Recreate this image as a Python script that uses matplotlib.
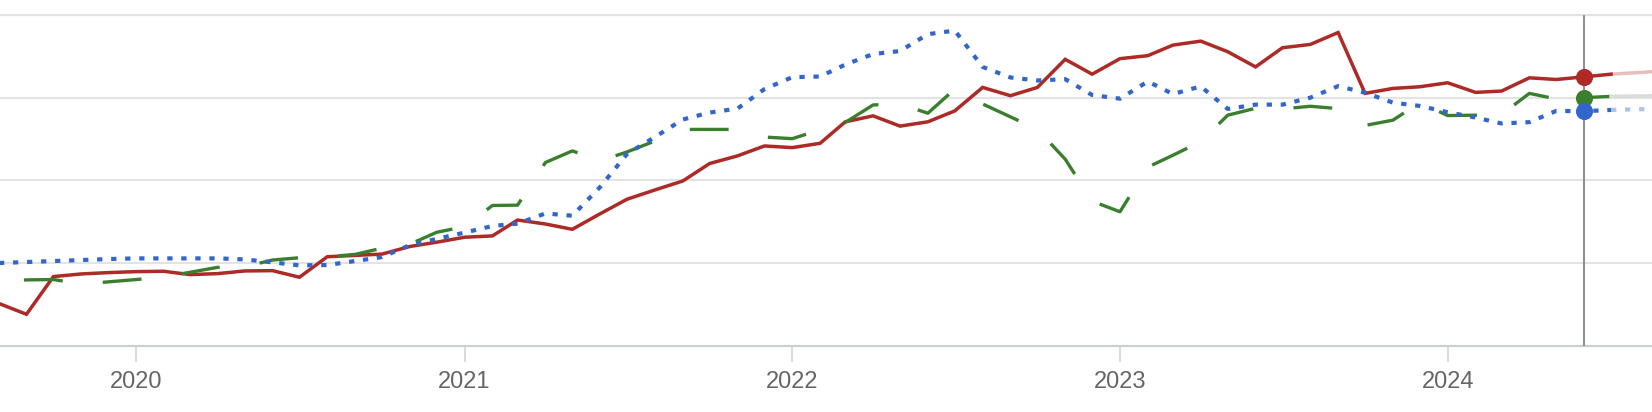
import matplotlib
matplotlib.use('Agg')
import matplotlib.pyplot as plt
import matplotlib.dates as mdates
import pandas as pd

# monthly values, Aug 2019 .. Sep 2024 (last two months are partial / faded)
months = pd.date_range('2019-08-01', '2024-09-01', freq='MS')

red = [12.8, 9.5, 20.9, 21.7, 22.1,
       22.4, 22.5, 21.5, 21.8, 22.6, 22.7, 20.7, 26.9, 27.3, 27.7, 30.0, 31.3,
       32.8, 33.2, 38.0, 36.8, 35.2, 39.9, 44.3, 47.1, 49.8, 55.1, 57.4, 60.4,
       59.9, 61.2, 67.7, 69.5, 66.4, 67.7, 71.0, 78.1, 75.6, 78.1, 86.6, 82.1,
       86.8, 87.7, 90.9, 92.1, 88.9, 84.3, 90.1, 91.1, 94.7, 76.3, 77.8, 78.3,
       79.5, 76.6, 77.0, 81.0, 80.5, 81.3, 82.1, 82.6, 83.2]

green = [19.5, 19.9, 20.0, 18.7, 19.3,
         20.0, 20.8, 22.2, 23.7, 23.9, 25.9, 26.6, 26.9, 27.6, 29.5, 30.7, 34.3,
         36.0, 42.4, 42.5, 55.4, 58.9, 55.9, 58.6, 61.9, 65.4, 65.4, 65.4, 63.1,
         62.6, 65.3, 67.5, 72.8, 73.1, 70.3, 77.6, 73.1, 69.2, 65.4, 56.4, 43.7,
         40.5, 54.0, 57.6, 61.7, 69.7, 71.8, 71.6, 72.4, 71.7, 66.6, 68.2, 73.5,
         69.6, 69.7, 69.9, 76.3, 74.6, 75.0, 75.4, 75.5, 75.6]

blue = [25.0, 25.3, 25.6, 25.9, 26.2,
        26.4, 26.4, 26.4, 26.4, 26.1, 25.2, 24.3, 24.4, 25.6, 26.8, 30.4, 32.3,
        34.2, 36.2, 36.9, 40.0, 39.3, 48.0, 58.0, 63.1, 68.4, 70.5, 71.7, 77.6,
        81.2, 81.4, 85.0, 88.2, 89.1, 94.2, 95.3, 84.3, 81.1, 80.2, 80.6, 75.8,
        74.7, 79.9, 76.1, 78.4, 71.6, 72.9, 72.9, 75.0, 78.5, 76.5, 73.5, 72.5,
        70.6, 69.0, 67.2, 67.6, 71.0, 70.9, 71.3, 71.5, 71.6]

years = ['2020', '2021', '2022', '2023', '2024']
highlight = pd.Timestamp('2024-06-01')
last_full = pd.Timestamp('2024-07-01')

RED = '#ad2a26'
GREEN = '#3a7f2e'
BLUE = '#3366cc'

df = pd.DataFrame({'red': red, 'green': green, 'blue': blue}, index=months)
solid = df[df.index <= last_full]
faded = df[df.index >= last_full]

plt.rcParams['lines.scale_dashes'] = False
plt.rcParams['font.family'] = ['Liberation Sans', 'DejaVu Sans']

fig = plt.figure(figsize=(16.52, 4.12), dpi=100)
ax = fig.add_axes([0, 66.3 / 412, 1, 330.7 / 412])

ax.plot(solid.index, solid['red'], color=RED, lw=2.5, solid_joinstyle='miter', zorder=3)
ax.plot(solid.index, solid['green'], color=GREEN, lw=2.4,
        linestyle=(39, (28, 29)), dash_capstyle='butt', zorder=4)
ax.plot(solid.index, solid['blue'], color=BLUE, lw=3.0,
        linestyle=(0, (3.8, 6.3)), dash_capstyle='butt', zorder=5)

# partial data after the last full month
ax.plot(faded.index, faded['red'], color=RED, lw=2.5, alpha=0.3, zorder=3)
ax.plot(faded.index, faded['green'], color='#dcdcdc', lw=2.6, zorder=4)
ax.plot(faded.index, faded['blue'], color=BLUE, lw=3.0, alpha=0.4,
        linestyle=(0, (3.8, 6.3)), zorder=5)

# hover line and markers
ax.axvline(highlight, color='#939090', lw=1.5, zorder=6)
row = df.loc[highlight]
ax.plot([highlight], [row['red']], 'o', color=RED, ms=11.3, zorder=7)
ax.plot([highlight], [row['green']], 'o', color=GREEN, ms=11.3, zorder=7)
ax.plot([highlight], [row['blue']], 'o', color=BLUE, ms=11.3, zorder=7)

x0 = mdates.date2num(pd.Timestamp('2020-01-01')) - 151.5
x1 = mdates.date2num(pd.Timestamp('2024-01-01')) + 227.6
ax.set_xlim(x0, x1)
ax.set_ylim(0, 100)

ax.set_yticks([0, 25, 50, 75, 100])
ax.yaxis.grid(True, color='#e3e3e3', lw=1.5)
ax.tick_params(axis='y', left=False, labelleft=False)

ax.set_xticks([pd.Timestamp(y + '-01-01') for y in years])
ax.set_xticklabels(years)
ax.tick_params(axis='x', length=11.5, width=1.4, color='#d9d9d9',
               labelsize=17, labelcolor='#666666', pad=7)

for s in ['left', 'right']:
    ax.spines[s].set_visible(False)
ax.spines['top'].set_color('#e3e3e3')
ax.spines['top'].set_linewidth(1.5)
ax.spines['bottom'].set_color('#c8cfcf')
ax.spines['bottom'].set_linewidth(1.5)
ax.set_axisbelow(True)

fig.savefig('out.png', dpi=100)
